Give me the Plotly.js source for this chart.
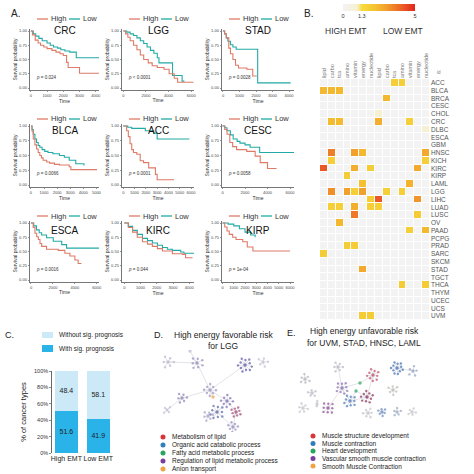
<!DOCTYPE html>
<html>
<head>
<meta charset="utf-8">
<script src="https://cdn.plot.ly/plotly-3.0.1.min.js"></script>
<style>
html, body { margin: 0; padding: 0; background: #fff; }
#chart { width: 474px; height: 474px; }
</style>
</head>
<body>
<div id="chart"></div>
<script>
// ---------- Kaplan-Meier curves (time in days, survival probability) ----------
const crcHighT = [0, 100, 270, 450, 600, 800, 1000, 1300, 1550, 1800, 2000, 2200, 2300, 3000, 4200];
const crcHighS = [1, 0.93, 0.84, 0.79, 0.75, 0.72, 0.69, 0.66, 0.63, 0.60, 0.57, 0.45, 0.36, 0.26, 0.26];
const crcLowT = [0, 150, 300, 500, 700, 1000, 1200, 1400, 1650, 1850, 2100, 2400, 2800, 4200];
const crcLowS = [1, 0.95, 0.91, 0.87, 0.83, 0.79, 0.75, 0.72, 0.70, 0.67, 0.65, 0.63, 0.53, 0.53];

const lggHighT = [0, 200, 400, 600, 900, 1200, 1500, 1800, 2200, 2550, 3000, 3600, 4050, 4500, 4800, 6200];
const lggHighS = [1, 0.95, 0.89, 0.83, 0.75, 0.67, 0.58, 0.50, 0.44, 0.39, 0.36, 0.33, 0.25, 0.17, 0.10, 0.10];
const lggLowT = [0, 300, 600, 900, 1200, 1500, 1800, 2100, 2400, 2700, 3000, 3150, 4350, 5200, 5400];
const lggLowS = [1, 0.98, 0.95, 0.92, 0.88, 0.83, 0.78, 0.72, 0.66, 0.61, 0.53, 0.44, 0.22, 0.12, 0.12];

const stadHighT = [0, 100, 200, 350, 450, 600, 760, 940, 1450, 1800, 2050];
const stadHighS = [1, 0.95, 0.88, 0.70, 0.60, 0.50, 0.40, 0.35, 0.33, 0.21, 0.21];
const stadLowT = [0, 100, 200, 300, 450, 600, 800, 2100, 4100];
const stadLowS = [1, 0.95, 0.88, 0.82, 0.76, 0.72, 0.68, 0.09, 0.09];

const blcaHighT = [0, 80, 175, 300, 425, 550, 675, 800, 925, 1200, 1425, 1800, 2175, 2925, 3050, 5050];
const blcaHighS = [1, 0.91, 0.78, 0.68, 0.61, 0.55, 0.50, 0.46, 0.42, 0.39, 0.37, 0.35, 0.34, 0.31, 0.26, 0.26];
const blcaLowT = [0, 80, 175, 300, 425, 550, 675, 850, 1050, 1300, 1675, 2175, 2550, 2925, 3425, 4050];
const blcaLowS = [1, 0.94, 0.86, 0.78, 0.72, 0.67, 0.64, 0.60, 0.57, 0.55, 0.53, 0.50, 0.47, 0.42, 0.36, 0.33];

const accHighT = [0, 300, 450, 600, 750, 900, 1200, 1500, 1800, 2250, 2850, 3000, 4500];
const accHighS = [1, 0.92, 0.82, 0.70, 0.60, 0.55, 0.52, 0.41, 0.38, 0.29, 0.18, 0.09, 0.09];
const accLowT = [0, 400, 750, 1950, 2700, 3000, 5850];
const accLowS = [1, 0.98, 0.96, 0.92, 0.88, 0.78, 0.78];

const cescHighT = [0, 200, 400, 650, 900, 1250, 2150, 2900, 3350, 4000, 4800];
const cescHighS = [1, 0.94, 0.86, 0.72, 0.65, 0.60, 0.57, 0.49, 0.38, 0.28, 0.28];
const cescLowT = [0, 200, 400, 700, 950, 1300, 1550, 2000, 2450, 3300, 6400];
const cescLowS = [1, 0.97, 0.92, 0.85, 0.78, 0.74, 0.71, 0.68, 0.64, 0.55, 0.55];

const escaHighT = [0, 200, 360, 520, 670, 820, 970, 1420, 2480, 3090, 3550, 4000, 4300, 4600];
const escaHighS = [1, 0.92, 0.82, 0.76, 0.71, 0.64, 0.59, 0.54, 0.52, 0.47, 0.42, 0.35, 0.29, 0.29];
const escaLowT = [0, 250, 500, 750, 970, 1420, 2030, 2800, 3240, 6270];
const escaLowS = [1, 0.95, 0.88, 0.83, 0.79, 0.74, 0.68, 0.62, 0.56, 0.56];

const kircHighT = [0, 250, 510, 800, 1120, 1430, 1730, 2040, 2350, 2960, 3570, 3770, 4200];
const kircHighS = [1, 0.92, 0.84, 0.75, 0.67, 0.63, 0.59, 0.55, 0.51, 0.46, 0.45, 0.39, 0.39];
const kircLowT = [0, 250, 510, 800, 1120, 1430, 1730, 2040, 2350, 2650, 2960, 3470, 3670, 4290];
const kircLowS = [1, 0.94, 0.87, 0.80, 0.73, 0.69, 0.65, 0.61, 0.57, 0.54, 0.52, 0.49, 0.47, 0.47];

const kirpHighT = [0, 200, 400, 600, 900, 1200, 1800, 2200, 2700, 6000];
const kirpHighS = [1, 0.93, 0.86, 0.80, 0.75, 0.71, 0.67, 0.58, 0.51, 0.51];
const kirpLowT = [0, 500, 1000, 1500, 2000, 2500, 2900];
const kirpLowS = [1, 0.98, 0.95, 0.90, 0.84, 0.79, 0.75];

// ---------- Heatmap: -log10(p) of metabolic pathway prognosis ----------
const cancerTypes = ['ACC','BLCA','BRCA','CESC','CHOL','CRC','DLBC','ESCA','GBM','HNSC','KICH','KIRC','KIRP','LAML','LGG','LIHC','LUAD','LUSC','OV','PAAD','PCPG','PRAD','SARC','SKCM','STAD','TGCT','THCA','THYM','UCEC','UCS','UVM'];
const pathwayLabels = ['lipid','carbo','tca','amino','vitamin','energy','nucleotide','lipid','carbo','tca','amino','vitamin','energy','nucleotide'];
const sigCancer = ['ACC','ACC','BLCA','BLCA','BLCA','BRCA','CHOL','CRC','CRC','CRC','CRC','DLBC',
  'HNSC','HNSC','HNSC','HNSC','KICH','KICH','KIRC','KIRC','KIRC','KIRC','KIRP','LAML','LAML',
  'LGG','LGG','LGG','LGG','LGG','LGG','LIHC','LIHC','LIHC','LUAD','LUAD','LUAD','LUAD','LUAD',
  'LUSC','LUSC','OV','PAAD','PAAD','PRAD','PRAD','SARC','STAD','THCA','THCA','UVM','UVM'];
const sigPathway = [9,10,0,1,2,8,7,1,2,7,11,13,
  1,4,5,13,1,13,0,4,6,12,3,5,11,
  1,3,4,5,8,10,6,7,12,1,2,4,6,7,
  4,12,2,11,13,3,4,0,5,10,13,5,6];
const sigLogP = [1.8,1.8,2.5,2.5,2.5,2.5,1.0,2.4,2.4,2.7,1.8,1.0,
  3.6,3.0,2.5,2.8,1.8,1.8,4.2,2.7,1.9,2.8,1.9,2.3,2.6,
  3.3,3.0,1.8,3.0,1.8,1.8,1.9,4.2,3.2,1.8,1.8,2.7,1.8,1.8,
  3.7,1.9,2.5,1.8,2.5,1.9,1.9,1.9,2.8,1.9,1.9,1.9,1.9];

// ---------- Share of cancer types with significant prognosis ----------
const emtGroups = ['High EMT', 'Low EMT'];
const withSigPct = [51.6, 41.9];
const withoutSigPct = [48.4, 58.1];

// ---------- Enrichment networks (cluster hubs, in panel pixel units) ----------
const netDHubX = [168, 197, 245, 263, 210, 182, 167, 217, 227, 236, 208, 233, 190, 213];
const netDHubY = [362, 363, 365, 362, 390, 398, 410, 412, 401, 412, 416, 427, 351, 397];
const netDRadius = [6, 6, 7, 5, 6, 5, 4, 7, 6, 5, 5, 5, 0, 0];
const netDLeaves = [6, 7, 11, 5, 8, 6, 4, 9, 8, 8, 6, 7, 0, 0];
const netDColor = ['#bdb7d2','#948bbd','#5e58a6','#c5c2d3','#9d93c2','#8e86bb','#c3bfd2','#5b68aa','#7c6cb3','#a34a76','#aaa2cb','#978fc0','#bdb7d2','#f0a245'];
const netDLinkA = [0, 1, 4, 4, 4, 5, 8, 8, 7, 9, 7, 12, 13];
const netDLinkB = [1, 4, 2, 8, 5, 6, 7, 9, 10, 11, 11, 1, 4];

const netEHubX = [338, 305, 312, 342, 373, 397, 413, 350, 367, 393, 328, 303, 317, 368, 382, 397, 412, 360, 356];
const netEHubY = [367, 379, 393, 388, 375, 368, 371, 401, 397, 390, 408, 408, 404, 413, 412, 412, 412, 383, 391];
const netERadius = [5, 5, 4, 6, 6, 6, 5, 6, 6, 5, 6, 5, 3, 5, 4, 4, 4, 0, 0];
const netELeaves = [6, 6, 5, 9, 9, 11, 5, 9, 9, 6, 8, 6, 2, 6, 6, 5, 5, 0, 0];
const netEColor = ['#b9b9c2','#b3b3bd','#bdbdc6','#8c6db2','#c24d69','#3f70b2','#8ea3c4','#4d7abb','#8c3158','#bdbdb4','#8b4d94','#c9c9ce','#c0c0c8','#c3c3cb','#6c8cc2','#9dabc4','#cacace','#2ca25f','#2ca25f'];
const netELinkA = [3, 7, 8, 4, 17, 8, 7, 3, 5, 3];
const netELinkB = [7, 8, 4, 17, 3, 18, 18, 10, 6, 0];

const netDTerms = ['Metabolism of lipid','Organic acid catabolic process','Fatty acid metabolic process','Regulation of lipid metabolic process','Anion transport'];
const netETerms = ['Muscle structure development','Muscle contraction','Heart development','Vascular smooth muscle contraction','Smooth Muscle Contraction'];
const termColors = ['#d8343a','#2f80b8','#2aa45e','#7a3f9c','#f0a245'];

// ---------- drawing ----------
const W = 474, H = 474;
const FONT = 'Liberation Sans, Arial, sans-serif';
const HIGH_COLOR = '#de7a67', LOW_COLOR = '#23aaa6';
const px = x => x / W;
const py = y => 1 - y / H;

const traces = [];
const layout = {
  width: W, height: H,
  margin: {l: 0, r: 0, t: 0, b: 0},
  paper_bgcolor: '#ffffff', plot_bgcolor: '#ffffff',
  showlegend: false, barmode: 'stack',
  font: {family: FONT, color: '#222'},
  annotations: [], shapes: []
};

function note(text, x, y, size, extra) {
  layout.annotations.push(Object.assign({
    text, x: px(x), y: py(y), xref: 'paper', yref: 'paper',
    showarrow: false, font: {family: FONT, size, color: '#222'},
    xanchor: 'center', yanchor: 'middle'
  }, extra || {}));
}
function hline(x0, x1, y, color, width) {
  layout.shapes.push({type: 'line', xref: 'paper', yref: 'paper',
    x0: px(x0), x1: px(x1), y0: py(y), y1: py(y), line: {color, width}});
}

// Kaplan-Meier grid
const kmRows = [
  {y1: 31, y0: 88, legendY: 19, titleY: 31},
  {y1: 126, y0: 185, legendY: 119, titleY: 130},
  {y1: 223, y0: 280, legendY: 216, titleY: 230}
];
const kmCols = [[30, 99], [122, 194], [222, 294]];
const kmPanels = [
  {name: 'CRC', hT: crcHighT, hS: crcHighS, lT: crcLowT, lS: crcLowS, p: '<i>p</i> = 0.024', xr: [-50, 4200], ticks: [0, 1000, 2000, 3000, 4000]},
  {name: 'LGG', hT: lggHighT, hS: lggHighS, lT: lggLowT, lS: lggLowS, p: '<i>p</i> < 0.0001', xr: [-120, 6250], ticks: [0, 2000, 4000, 6000]},
  {name: 'STAD', hT: stadHighT, hS: stadHighS, lT: stadLowT, lS: stadLowS, p: '<i>p</i> = 0.0028', xr: [-60, 4300], ticks: [0, 1000, 2000, 3000, 4000]},
  {name: 'BLCA', hT: blcaHighT, hS: blcaHighS, lT: blcaLowT, lS: blcaLowS, p: '<i>p</i> = 0.0066', xr: [-75, 5200], ticks: [0, 1000, 2000, 3000, 4000, 5000]},
  {name: 'ACC', hT: accHighT, hS: accHighS, lT: accLowT, lS: accLowS, p: '<i>p</i> = 0.0001', xr: [-110, 6260], ticks: [0, 1000, 2000, 3000, 4000, 5000, 6000]},
  {name: 'CESC', hT: cescHighT, hS: cescHighS, lT: cescLowT, lS: cescLowS, p: '<i>p</i> = 0.0058', xr: [-45, 6350], ticks: [0, 2000, 4000, 6000]},
  {name: 'ESCA', hT: escaHighT, hS: escaHighS, lT: escaLowT, lS: escaLowS, p: '<i>p</i> = 0.0016', xr: [-90, 6200], ticks: [0, 2000, 4000, 6000]},
  {name: 'KIRC', hT: kircHighT, hS: kircHighS, lT: kircLowT, lS: kircLowS, p: '<i>p</i> = 0.044', xr: [-140, 4290], ticks: [0, 1000, 2000, 3000, 4000]},
  {name: 'KIRP', hT: kirpHighT, hS: kirpHighS, lT: kirpLowT, lS: kirpLowS, p: '<i>p</i> = 1e-04', xr: [-45, 6350], ticks: [0, 1000, 2000, 3000, 4000, 5000, 6000]}
];

kmPanels.forEach((p, i) => {
  const n = i + 1;
  const row = kmRows[Math.floor(i / 3)];
  const col = kmCols[i % 3];
  const pad = 0.03 * (row.y0 - row.y1);
  layout['xaxis' + n] = {
    domain: [px(col[0]), px(col[1])], anchor: 'y' + n, range: p.xr,
    tickmode: 'array', tickvals: p.ticks, ticktext: p.ticks.map(String), tickangle: 0,
    tickfont: {size: 4, color: '#444'},
    ticks: 'outside', ticklen: 1.5, tickcolor: '#555', tickwidth: 0.6,
    showline: true, linecolor: '#555', linewidth: 0.8,
    showgrid: false, zeroline: false, fixedrange: true,
    title: {text: 'Time', font: {size: 5, color: '#333'}, standoff: 1}
  };
  layout['yaxis' + n] = {
    domain: [py(row.y0 + pad), py(row.y1 - pad)], anchor: 'x' + n, range: [-0.03, 1.03],
    tickmode: 'array', tickvals: [0, 0.25, 0.5, 0.75, 1], ticktext: ['0.00', '0.25', '0.50', '0.75', '1.00'],
    tickfont: {size: 4, color: '#444'},
    ticks: 'outside', ticklen: 1.5, tickcolor: '#555', tickwidth: 0.6,
    showline: true, linecolor: '#555', linewidth: 0.8,
    showgrid: false, zeroline: false, fixedrange: true,
    title: {text: 'Survival probability', font: {size: 5, color: '#333'}, standoff: 1}
  };
  traces.push({type: 'scatter', mode: 'lines', x: p.lT, y: p.lS, line: {shape: 'hv', color: LOW_COLOR, width: 1.1},
    xaxis: 'x' + n, yaxis: 'y' + n, hoverinfo: 'skip'});
  traces.push({type: 'scatter', mode: 'lines', x: p.hT, y: p.hS, line: {shape: 'hv', color: HIGH_COLOR, width: 1.1},
    xaxis: 'x' + n, yaxis: 'y' + n, hoverinfo: 'skip'});

  // cancer type heading and p-value
  note(p.name, (col[0] + col[1]) / 2, row.titleY, 10, {font: {family: FONT, size: 10, color: '#111'}});
  layout.annotations.push({
    text: p.p, xref: 'x' + n, yref: 'y' + n,
    x: p.xr[0] + 0.06 * (p.xr[1] - p.xr[0]), y: 0.19,
    showarrow: false, xanchor: 'left', yanchor: 'middle',
    font: {family: FONT, size: 4.5, color: '#333'}
  });

  // group key above each plot
  const L = col[0];
  hline(L + 7, L + 18, row.legendY, HIGH_COLOR, 1.3);
  note('High', L + 19, row.legendY, 7.5, {xanchor: 'left', font: {family: FONT, size: 7.5, color: '#333'}});
  hline(L + 39, L + 50, row.legendY, LOW_COLOR, 1.3);
  note('Low', L + 51, row.legendY, 7.5, {xanchor: 'left', font: {family: FONT, size: 7.5, color: '#333'}});
});

// Heatmap
const z = cancerTypes.map(() => pathwayLabels.map(() => 0));
sigCancer.forEach((c, k) => { z[cancerTypes.indexOf(c)][sigPathway[k]] = sigLogP[k]; });
const colIdx = pathwayLabels.map((_, i) => i);
traces.push({
  type: 'heatmap', z, x: colIdx, y: cancerTypes, xaxis: 'x10', yaxis: 'y10',
  zmin: 0, zmax: 5, xgap: 1, ygap: 1, hoverinfo: 'skip',
  colorscale: [[0, '#f3f3f3'], [0.2, '#f6f0d2'], [0.26, '#f7dc3c'], [0.45, '#f5c232'],
               [0.6, '#f2a02c'], [0.8, '#ec6526'], [1, '#e3241e']],
  colorbar: {
    orientation: 'h', x: px(379), xanchor: 'center', y: py(4), yanchor: 'top',
    thickness: 7, len: 72, lenmode: 'pixels',
    tickvals: [0, 1.3, 5], ticktext: ['0', '1.3', '5'],
    tickfont: {family: FONT, size: 5.5, color: '#333'},
    outlinewidth: 0, ticks: '', xpad: 0, ypad: 0
  }
});
layout.xaxis10 = {
  domain: [px(320), px(430)], anchor: 'y10', side: 'top', range: [-0.5, 13.5],
  tickmode: 'array', tickvals: colIdx, ticktext: pathwayLabels, tickangle: -90,
  tickfont: {size: 5.5, color: '#777'}, ticks: '', showgrid: false, zeroline: false, showline: false, fixedrange: true
};
layout.yaxis10 = {
  domain: [py(320), py(79)], anchor: 'x10', type: 'category', autorange: 'reversed', side: 'right',
  tickmode: 'array', tickvals: cancerTypes, ticktext: cancerTypes,
  tickfont: {size: 6.5, color: '#555'}, ticks: '', showgrid: false, zeroline: false, showline: false, fixedrange: true
};
note('HIGH EMT', 346, 31, 8.5, {font: {family: FONT, size: 8.5, color: '#333'}});
note('LOW EMT', 403, 31, 8.5, {font: {family: FONT, size: 8.5, color: '#333'}});
note('id', 435, 72, 4.5, {xanchor: 'left', font: {family: FONT, size: 4.5, color: '#777'}});

// Stacked bars
traces.push({
  type: 'bar', x: emtGroups, y: withSigPct, xaxis: 'x11', yaxis: 'y11', width: 0.72,
  marker: {color: '#29b3e8', line: {width: 0}}, text: withSigPct.map(String),
  textposition: 'inside', insidetextanchor: 'middle', textangle: 0,
  textfont: {family: FONT, size: 7, color: '#222'}, hoverinfo: 'skip'
});
traces.push({
  type: 'bar', x: emtGroups, y: withoutSigPct, xaxis: 'x11', yaxis: 'y11', width: 0.72,
  marker: {color: '#cbe9f7', line: {width: 0}}, text: withoutSigPct.map(String),
  textposition: 'inside', insidetextanchor: 'middle', textangle: 0,
  textfont: {family: FONT, size: 7, color: '#222'}, hoverinfo: 'skip'
});
layout.xaxis11 = {
  domain: [px(52), px(114)], anchor: 'y11', type: 'category', range: [-0.45, 1.49],
  tickangle: 0, tickfont: {size: 7, color: '#222'}, ticks: '',
  showline: false, showgrid: false, zeroline: false, fixedrange: true
};
layout.yaxis11 = {
  domain: [py(453), py(371)], anchor: 'x11', range: [0, 100],
  tickmode: 'array', tickvals: [0, 20, 40, 60, 80, 100], ticktext: ['0%', '20%', '40%', '60%', '80%', '100%'],
  tickfont: {size: 5.5, color: '#333'},
  ticks: 'outside', ticklen: 2, tickcolor: '#444', tickwidth: 0.6,
  showline: true, linecolor: '#444', linewidth: 0.8, showgrid: false, zeroline: false, fixedrange: true,
  title: {text: '% of cancer types', font: {size: 7.5, color: '#222'}, standoff: 6}
};
layout.shapes.push({type: 'rect', xref: 'paper', yref: 'paper', x0: px(42), x1: px(53), y0: py(338), y1: py(332), fillcolor: '#cbe9f7', line: {width: 0}});
layout.shapes.push({type: 'rect', xref: 'paper', yref: 'paper', x0: px(42), x1: px(53), y0: py(352), y1: py(345), fillcolor: '#29b3e8', line: {width: 0}});
note('Without sig. prognosis', 57, 335, 6.5, {xanchor: 'left'});
note('With sig. prognosis', 57, 348.5, 6.5, {xanchor: 'left'});

// Networks
function network(hx, hy, rad, cnt, col, la, lb, xa, ya) {
  const nx = [], ny = [], nc = [], ns = [], ex = [], ey = [];
  la.forEach((a, i) => { ex.push(hx[a], hx[lb[i]], null); ey.push(hy[a], hy[lb[i]], null); });
  hx.forEach((x, k) => {
    nx.push(x); ny.push(hy[k]); nc.push(col[k]); ns.push(3.4);
    for (let j = 0; j < cnt[k]; j++) {
      const a = 0.4 * k + 2 * Math.PI * j / cnt[k];
      const r = rad[k] * (j % 2 ? 0.72 : 1);
      const lx = x + r * Math.cos(a), ly = hy[k] + r * Math.sin(a);
      nx.push(lx); ny.push(ly); nc.push(col[k]); ns.push(2.4);
      ex.push(x, lx, null); ey.push(hy[k], ly, null);
    }
  });
  traces.push({type: 'scatter', mode: 'lines', x: ex, y: ey, xaxis: xa, yaxis: ya,
    line: {color: '#c6c6d0', width: 0.5}, hoverinfo: 'skip'});
  traces.push({type: 'scatter', mode: 'markers', x: nx, y: ny, xaxis: xa, yaxis: ya,
    marker: {color: nc, size: ns, line: {width: 0}}, hoverinfo: 'skip'});
}
network(netDHubX, netDHubY, netDRadius, netDLeaves, netDColor, netDLinkA, netDLinkB, 'x12', 'y12');
network(netEHubX, netEHubY, netERadius, netELeaves, netEColor, netELinkA, netELinkB, 'x13', 'y13');
const hidden = {visible: false, fixedrange: true, showgrid: false, zeroline: false};
layout.xaxis12 = Object.assign({domain: [px(150), px(285)], anchor: 'y12', range: [150, 285]}, hidden);
layout.yaxis12 = Object.assign({domain: [py(432), py(350)], anchor: 'x12', range: [432, 350]}, hidden);
layout.xaxis13 = Object.assign({domain: [px(293), px(425)], anchor: 'y13', range: [293, 425]}, hidden);
layout.yaxis13 = Object.assign({domain: [py(425), py(355)], anchor: 'x13', range: [425, 355]}, hidden);

note('High energy favorable risk', 223, 335, 8.5);
note('for LGG', 223, 346, 8.5);
note('High energy unfavorable risk', 364, 331, 8.5);
note('for UVM, STAD, HNSC, LAML', 364, 343, 8.5);

function termKey(terms, dotX, y0, step) {
  terms.forEach((t, i) => {
    const y = y0 + i * step;
    layout.shapes.push({type: 'circle', xref: 'paper', yref: 'paper',
      x0: px(dotX - 2.5), x1: px(dotX + 2.5), y0: py(y + 2.5), y1: py(y - 2.5),
      fillcolor: termColors[i], line: {width: 0}});
    note(t, dotX + 7, y, 6.5, {xanchor: 'left'});
  });
}
termKey(netDTerms, 163, 437, 8);
termKey(netETerms, 313, 436, 7.5);

// Panel letters
note('A.', 16, 13, 10);
note('B.', 308, 13, 10);
note('C.', 9, 335, 9);
note('D.', 158, 335, 9);
note('E.', 291, 333, 9);

Plotly.newPlot('chart', traces, layout, {staticPlot: true, displayModeBar: false});
</script>
</body>
</html>
